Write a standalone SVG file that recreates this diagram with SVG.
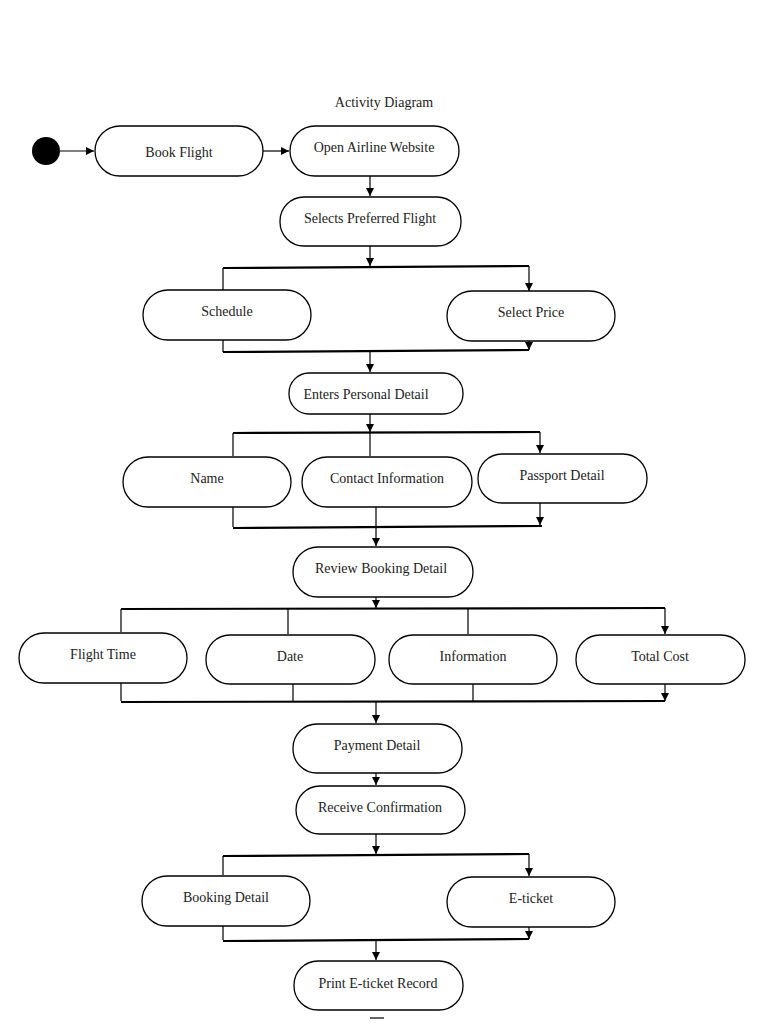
<svg xmlns="http://www.w3.org/2000/svg" width="768" height="1024" viewBox="0 0 768 1024">
<style>
.n rect{fill:#fff;stroke:#000;stroke-width:1.3}
text{font-family:"Liberation Serif",serif;font-size:14px;fill:#222;text-anchor:middle}
.c path{fill:none;stroke:#000;stroke-width:1.2}
.c .b{stroke-width:2.2}
</style>
<defs><marker id="a" viewBox="0 0 10 10" refX="10" refY="5" markerWidth="7" markerHeight="7" orient="auto"><path d="M0,0L10,5L0,10z" fill="#000"/></marker></defs>
<rect width="768" height="1024" fill="#fff"/>
<text x="384" y="107">Activity Diagram</text>
<g id="start"><circle cx="46" cy="151" r="14" fill="#000"/></g>
<g class="c">
<path d="M60,151H94" marker-end="url(#a)"/>
<path d="M263,151H289" marker-end="url(#a)"/>
<path d="M370,176V196" marker-end="url(#a)"/>
<path d="M370,246V266" marker-end="url(#a)"/>
<path class="b" d="M223,268L529,266"/>
<path d="M223,268V290M529,266V291" marker-end="url(#a)"/>
<path d="M223,340V352M529,341V350" marker-end="url(#a)"/>
<path class="b" d="M223,352L529,350"/>
<path d="M370,352V372" marker-end="url(#a)"/>
<path d="M370,414V432" marker-end="url(#a)"/>
<path class="b" d="M233,433L540,432"/>
<path d="M233,433V456M370,433V456M540,432V453" marker-end="url(#a)"/>
<path d="M233,507V527M376,507V527M540,503V525" marker-end="url(#a)"/>
<path class="b" d="M233,528L542,526"/>
<path d="M376,528V546" marker-end="url(#a)"/>
<path d="M376,597V608" marker-end="url(#a)"/>
<path class="b" d="M121,609L665,608"/>
<path d="M121,609V632M288,609V634M468,609V634M665,608V634" marker-end="url(#a)"/>
<path d="M121,683V701M293,684V701M473,684V701M665,684V701" marker-end="url(#a)"/>
<path class="b" d="M121,702L665,701"/>
<path d="M376,702V723" marker-end="url(#a)"/>
<path d="M376,773V785" marker-end="url(#a)"/>
<path d="M376,834V854" marker-end="url(#a)"/>
<path class="b" d="M223,856L529,854"/>
<path d="M223,856V875M529,854V876" marker-end="url(#a)"/>
<path d="M223,926V940M529,927V939" marker-end="url(#a)"/>
<path class="b" d="M223,941L529,939"/>
<path d="M376,941V960" marker-end="url(#a)"/>
<path d="M370,1018H384"/>
</g>
<g class="n">
<g id="n1"><rect x="95" y="126" width="168" height="50" rx="25"/><text x="179" y="157">Book Flight</text></g>
<g id="n2"><rect x="290" y="126" width="169" height="50" rx="25"/><text x="374" y="152">Open Airline Website</text></g>
<g id="n3"><rect x="280" y="197" width="181" height="49" rx="24"/><text x="370" y="223">Selects Preferred Flight</text></g>
<g id="n4"><rect x="143" y="290" width="168" height="50" rx="25"/><text x="227" y="316">Schedule</text></g>
<g id="n5"><rect x="447" y="291" width="168" height="50" rx="25"/><text x="531" y="317">Select Price</text></g>
<g id="n6"><rect x="289" y="373" width="174" height="41" rx="20"/><text x="366" y="399">Enters Personal Detail</text></g>
<g id="n7"><rect x="123" y="457" width="168" height="50" rx="25"/><text x="207" y="483">Name</text></g>
<g id="n8"><rect x="302" y="457" width="170" height="50" rx="25"/><text x="387" y="483">Contact Information</text></g>
<g id="n9"><rect x="478" y="454" width="169" height="49" rx="24"/><text x="562" y="480">Passport Detail</text></g>
<g id="n10"><rect x="293" y="547" width="180" height="50" rx="25"/><text x="381" y="573">Review Booking Detail</text></g>
<g id="n11"><rect x="19" y="633" width="168" height="50" rx="25"/><text x="103" y="659">Flight Time</text></g>
<g id="n12"><rect x="206" y="635" width="169" height="49" rx="24"/><text x="290" y="661">Date</text></g>
<g id="n13"><rect x="389" y="635" width="168" height="49" rx="24"/><text x="473" y="661">Information</text></g>
<g id="n14"><rect x="576" y="635" width="169" height="49" rx="24"/><text x="660" y="661">Total Cost</text></g>
<g id="n15"><rect x="293" y="724" width="169" height="49" rx="24"/><text x="377" y="750">Payment Detail</text></g>
<g id="n16"><rect x="296" y="786" width="169" height="48" rx="24"/><text x="380" y="812">Receive Confirmation</text></g>
<g id="n17"><rect x="142" y="876" width="168" height="50" rx="25"/><text x="226" y="902">Booking Detail</text></g>
<g id="n18"><rect x="447" y="877" width="168" height="50" rx="25"/><text x="531" y="903">E-ticket</text></g>
<g id="n19"><rect x="294" y="961" width="169" height="49" rx="24"/><text x="378" y="988">Print E-ticket Record</text></g>
</g>
</svg>
